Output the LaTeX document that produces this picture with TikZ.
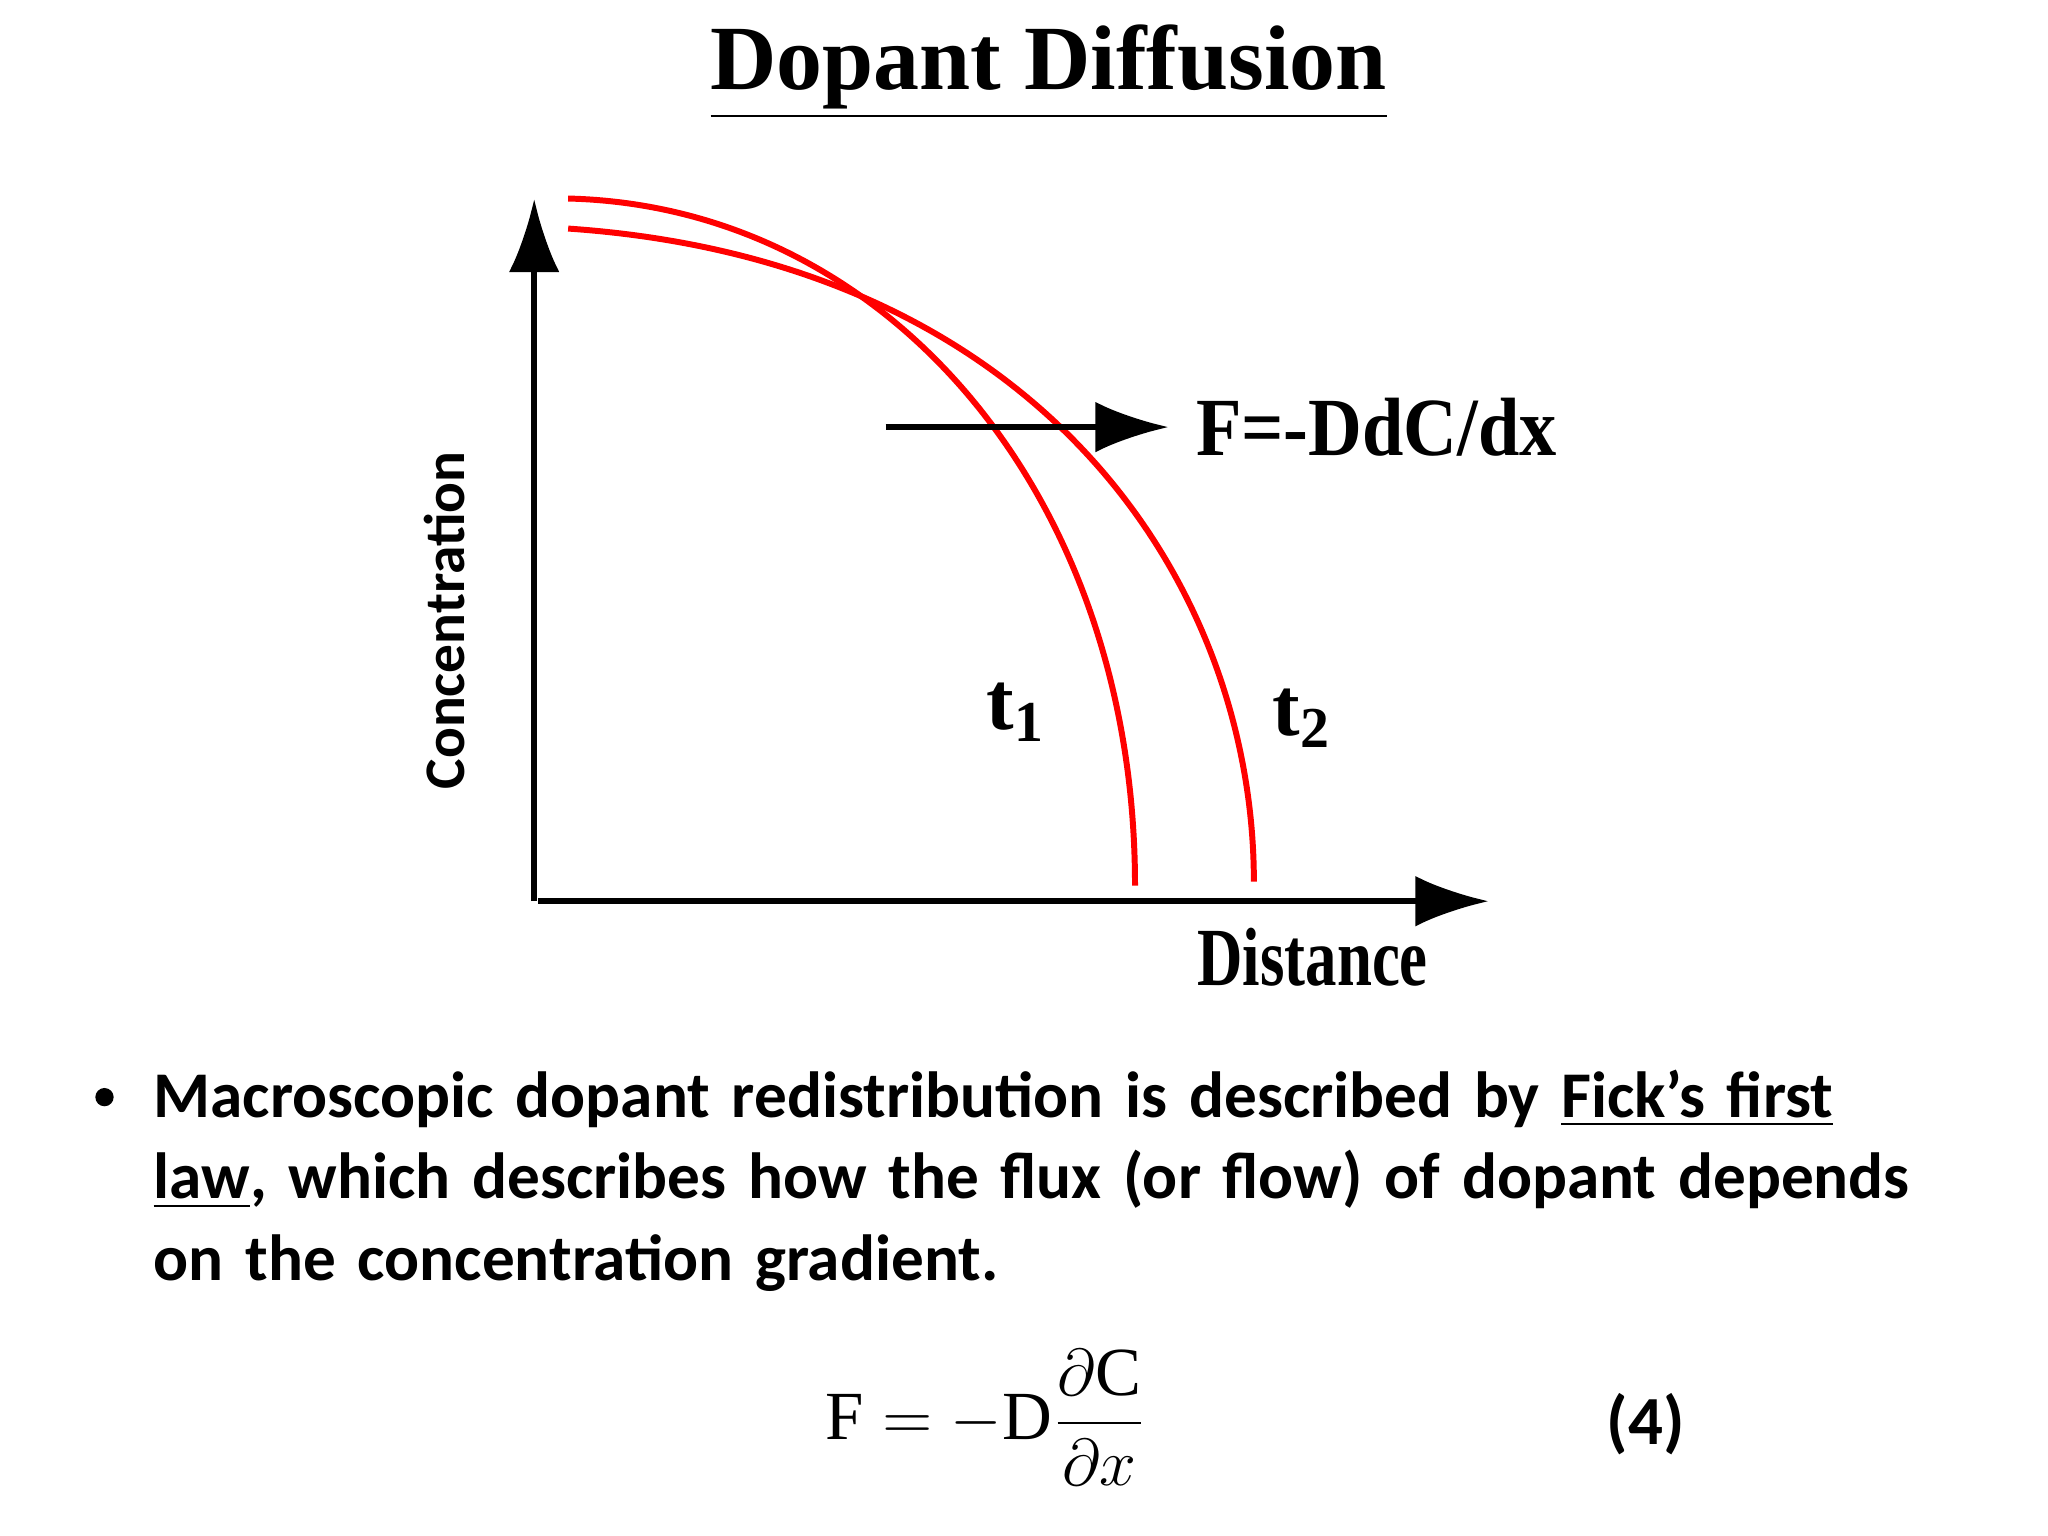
\documentclass[tikz,border=0pt]{standalone}
\usepackage{fontspec}
\setmainfont{Liberation Serif}
\newfontfamily\calfont{Carlito}
\usetikzlibrary{arrows.meta}
\tikzset{
  axis/.style={line width=1.4pt,-{Latex[length=16pt,width=11pt]}},
  curve/.style={red,line width=1.3pt},
  lab/.style={font=\bfseries\fontsize{18}{20}\selectfont},
}
\begin{document}
\begin{tikzpicture}[x=0.01cm,y=-0.01cm]
\useasboundingbox (0,0) rectangle (1568,1176);
\node (title) at (803,55) {\fontsize{20}{24}\selectfont\bfseries\underline{Dopant Diffusion}};
\coordinate (o) at (409,690);
\coordinate (ytop) at (409,152);
\coordinate (xend) at (1140,690);
\draw[axis] (o) -- (ytop);
\draw[axis] (412,690) -- (xend);
\draw[curve] (435,152) .. controls (680,158) and (869,380) .. (869,678);
\draw[curve] (435,175) .. controls (800,200) and (960,450) .. (960,675);
\coordinate (fa) at (678,327);
\coordinate (fb) at (895,327);
\node[lab,anchor=west,inner sep=0pt] (flux) at (915,327) {\scalebox{0.9}[1]{F=-DdC/dx}};
\draw[axis] (fa) -- (fb);
\node[lab] (t1) at (778,545) {t$_{\mathbf 1}$};
\node[lab] (t2) at (997,550) {t$_{\mathbf 2}$};
\node[lab,inner sep=0pt] (dist) at (1005,733) {\scalebox{0.76}[1]{Distance}};
\node[rotate=90,font=\calfont\bfseries\fontsize{12.5}{14}\selectfont] (conc) at (340,475) {Concentration};
\node[anchor=west,font=\calfont\bfseries\fontsize{14.2}{17.8}\selectfont,align=left,text width=14.5cm,inner sep=0pt] (txt) at (117,904)
 {Macroscopic dopant redistribution is described by \underline{Fick’s first}\\\underline{law}, which describes how the flux (or flow) of dopant depends\\on the concentration gradient.};
\fill (80,840) circle (7);
\node (eq) at (755,1085) {\fontsize{15}{18}\selectfont $\mathrm{F}=-\mathrm{D}\displaystyle\frac{\partial \mathrm{C}}{\partial x}$};
\node[font=\calfont\bfseries\fontsize{15}{17}\selectfont] (num) at (1260,1090) {(4)};
\end{tikzpicture}
\end{document}
